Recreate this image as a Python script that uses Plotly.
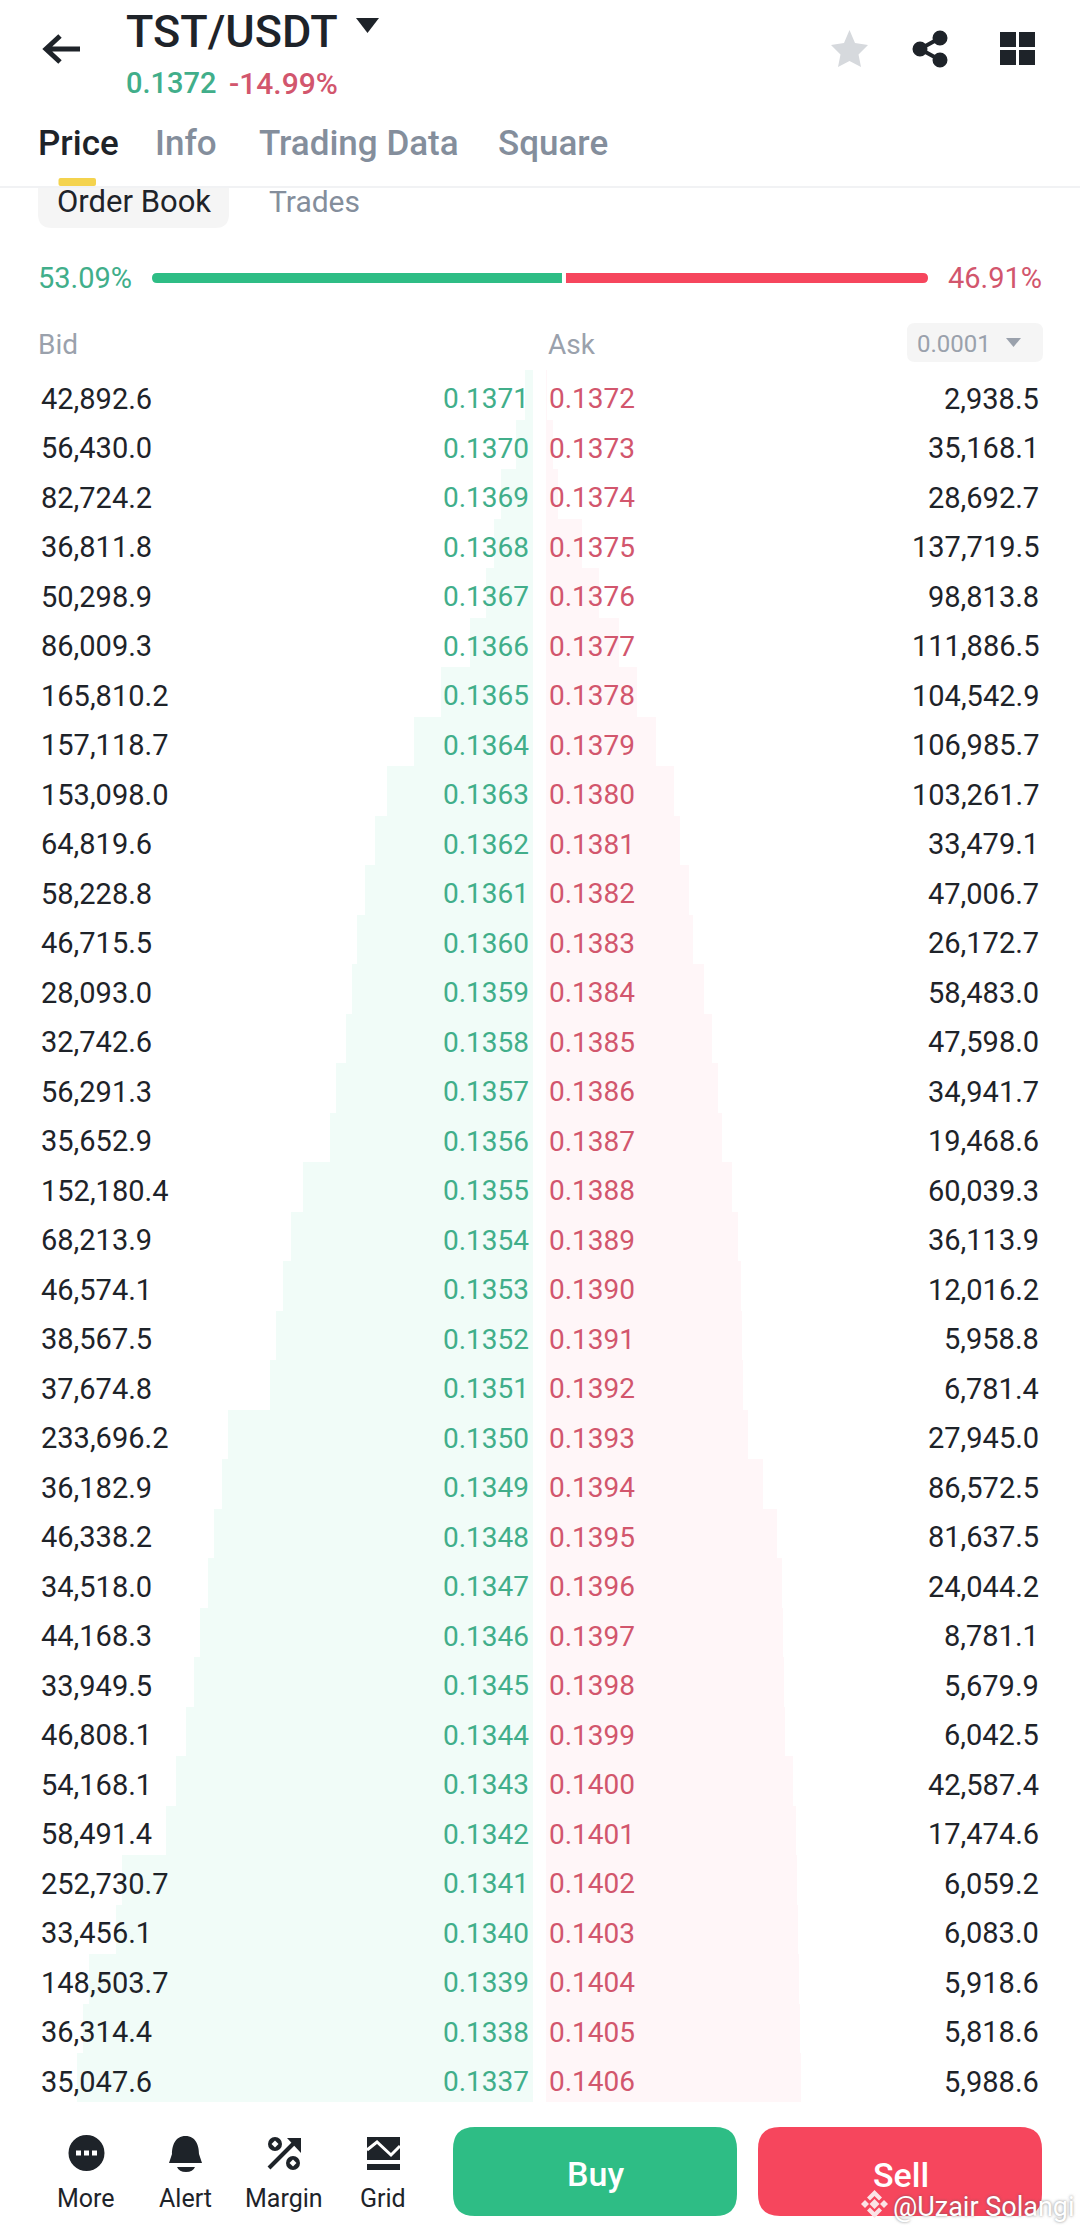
import numpy as np
import plotly.graph_objects as go

# order book values, read top to bottom
bid_sizes = [42892.6, 56430.0, 82724.2, 36811.8, 50298.9, 86009.3, 165810.2, 157118.7, 153098.0, 64819.6,
             58228.8, 46715.5, 28093.0, 32742.6, 56291.3, 35652.9, 152180.4, 68213.9, 46574.1, 38567.5,
             37674.8, 233696.2, 36182.9, 46338.2, 34518.0, 44168.3, 33949.5, 46808.1, 54168.1, 58491.4,
             252730.7, 33456.1, 148503.7, 36314.4, 35047.6]
bid_prices = ["0.1371", "0.1370", "0.1369", "0.1368", "0.1367", "0.1366", "0.1365", "0.1364", "0.1363", "0.1362",
              "0.1361", "0.1360", "0.1359", "0.1358", "0.1357", "0.1356", "0.1355", "0.1354", "0.1353", "0.1352",
              "0.1351", "0.1350", "0.1349", "0.1348", "0.1347", "0.1346", "0.1345", "0.1344", "0.1343", "0.1342",
              "0.1341", "0.1340", "0.1339", "0.1338", "0.1337"]
ask_prices = ["0.1372", "0.1373", "0.1374", "0.1375", "0.1376", "0.1377", "0.1378", "0.1379", "0.1380", "0.1381",
              "0.1382", "0.1383", "0.1384", "0.1385", "0.1386", "0.1387", "0.1388", "0.1389", "0.1390", "0.1391",
              "0.1392", "0.1393", "0.1394", "0.1395", "0.1396", "0.1397", "0.1398", "0.1399", "0.1400", "0.1401",
              "0.1402", "0.1403", "0.1404", "0.1405", "0.1406"]
ask_sizes = [2938.5, 35168.1, 28692.7, 137719.5, 98813.8, 111886.5, 104542.9, 106985.7, 103261.7, 33479.1,
             47006.7, 26172.7, 58483.0, 47598.0, 34941.7, 19468.6, 60039.3, 36113.9, 12016.2, 5958.8,
             6781.4, 27945.0, 86572.5, 81637.5, 24044.2, 8781.1, 5679.9, 6042.5, 42587.4, 17474.6,
             6059.2, 6083.0, 5918.6, 5818.6, 5988.6]
bid_pct = 53.09
ask_pct = 46.91

W, H = 1080, 2228
GREEN = "#2EBD85"
RED = "#F6465D"
GREEN_TEXT = "#41AE8A"
RED_TEXT = "#D2566D"
DARK = "#1E2329"
GRAY = "#848E9C"
FONT = "Roboto"

PX_PER_UNIT = 1.76e-4  # depth bars share one scale on both sides
BID_EDGE, ASK_EDGE = 533, 546
ROWS_TOP, ROWS_BOTTOM = 369.5, 2102
ROW_TEXT_SHIFT = -4.5

fig = go.Figure()

fig.add_trace(go.Bar(x=np.cumsum(bid_sizes).tolist(), y=bid_prices, orientation="h", xaxis="x", yaxis="y",
                     marker=dict(color="#F1FCF8", line=dict(width=0)), hoverinfo="skip"))
fig.add_trace(go.Bar(x=np.cumsum(ask_sizes).tolist(), y=ask_prices, orientation="h", xaxis="x2", yaxis="y2",
                     marker=dict(color="#FFF6F8", line=dict(width=0)), hoverinfo="skip"))
# empty trace so the pixel overlay axes exist
fig.add_trace(go.Scatter(x=[None], y=[None], xaxis="x3", yaxis="y3", hoverinfo="skip"))

annotations = []
shapes = []


def label(text, x, y, size=28, color=DARK, anchor="left", weight=400, **kw):
    annotations.append(dict(text=text, x=x, y=y, xref="x3", yref="y3", xanchor=anchor, yanchor="middle",
                            showarrow=False, borderpad=0,
                            font=dict(family=FONT, size=size, color=color, weight=weight, **kw)))


def row_label(text, x, row, yref, color, anchor, size=28):
    # a category axis takes the row number for an annotation, not the category name
    annotations.append(dict(text=text, x=x, y=row, xref="x3", yref=yref, xanchor=anchor, yanchor="middle",
                            yshift=ROW_TEXT_SHIFT, showarrow=False, borderpad=0,
                            font=dict(family=FONT, size=size, color=color)))


def path(d, fill=None, line=None, width=0):
    shapes.append(dict(type="path", path=d, xref="x3", yref="y3", fillcolor=fill or "rgba(0,0,0,0)",
                       line=dict(color=line or "rgba(0,0,0,0)", width=width)))


def rect(x0, y0, x1, y1, fill):
    shapes.append(dict(type="rect", x0=x0, y0=y0, x1=x1, y1=y1, xref="x3", yref="y3", fillcolor=fill, line_width=0))


def circle(cx, cy, r, fill):
    shapes.append(dict(type="circle", x0=cx - r, y0=cy - r, x1=cx + r, y1=cy + r, xref="x3", yref="y3",
                       fillcolor=fill, line_width=0))


def rounded(x0, y0, x1, y1, r, fill):
    path(f"M{x0 + r},{y0} L{x1 - r},{y0} Q{x1},{y0} {x1},{y0 + r} L{x1},{y1 - r} Q{x1},{y1} {x1 - r},{y1} "
         f"L{x0 + r},{y1} Q{x0},{y1} {x0},{y1 - r} L{x0},{y0 + r} Q{x0},{y0} {x0 + r},{y0} Z", fill=fill)


# order book rows
for i, (size, price) in enumerate(zip(bid_sizes, bid_prices)):
    row_label(f"{size:,.1f}", 40, i, "y", DARK, "left", size=29)
    row_label(price, 530, i, "y", GREEN_TEXT, "right")
for i, (size, price) in enumerate(zip(ask_sizes, ask_prices)):
    row_label(price, 548, i, "y2", RED_TEXT, "left")
    row_label(f"{size:,.1f}", 1040, i, "y2", DARK, "right", size=29)

# header
path("M80,49 L46,49 M60,36 L46,49 L60,62", line=DARK, width=5)
label("TST/USDT", 125, 31, size=45, weight=500)
path("M356,18 L379,18 L367.5,33 Z", fill=DARK)
label("0.1372", 125, 83, size=29, color=GREEN_TEXT, weight=500)
label("-14.99%", 228, 83, size=30, color=RED_TEXT, weight=500)
path("M849.5,30 L855,43 L868,45 L858.5,54.5 L861,67 L849.5,61 L838,67 L840.5,54.5 L831,45 L844,43 Z", fill="#D6D9DD")
path("M940,38 L920,49 L940,60", line=DARK, width=4)
circle(940, 38, 7.5, DARK)
circle(920, 49, 7.5, DARK)
circle(940, 60, 7.5, DARK)
for gx0, gy0 in [(1000, 32), (1019, 32), (1000, 50), (1019, 50)]:
    rect(gx0, gy0, gx0 + 16, gy0 + 15, DARK)

# tabs
label("Price", 37, 143, size=35, weight=500)
label("Info", 154, 143, size=35, color=GRAY, weight=500)
label("Trading Data", 258, 143, size=35, color=GRAY, weight=500)
label("Square", 497, 143, size=35, color=GRAY, weight=500)
path("M38,187 L229,187 L229,214 Q229,228 215,228 L52,228 Q38,228 38,214 Z", fill="#F5F5F5")
rect(0, 186, W, 188, "#F1F2F4")
rounded(58.5, 178, 96, 186, 2, "#F4D34E")
label("Order Book", 56, 201, size=31)
label("Trades", 268, 201, size=30, color=GRAY)

# buy/sell ratio bar
bar_left, bar_right = 152, 928
split = bar_left + (bar_right - bar_left) * bid_pct / 100
label(f"{bid_pct:.2f}%", 37, 278, size=29, color=GREEN_TEXT)
label(f"{ask_pct:.2f}%", 1043, 278, size=29, color=RED_TEXT, anchor="right")
path(f"M{bar_left + 5},273 L{split - 2},273 L{split - 2},283 L{bar_left + 5},283 Q{bar_left},283 {bar_left},278 "
     f"Q{bar_left},273 {bar_left + 5},273 Z", fill=GREEN)
path(f"M{split + 2},273 L{bar_right - 5},273 Q{bar_right},273 {bar_right},278 Q{bar_right},283 {bar_right - 5},283 "
     f"L{split + 2},283 Z", fill=RED)

# column heads
label("Bid", 37, 344, color="#9AA1AC")
label("Ask", 547, 344, color="#9AA1AC")
rounded(907, 323, 1043, 362, 8, "#F5F5F5")
label("0.0001", 916, 344, size=24, color="#9AA1AC")
path("M1006,338 L1021,338 L1013.5,347 Z", fill="#9AA1AC")

# bottom toolbar
circle(86.5, 2153, 18, DARK)
for dx in (-8, 0, 8):
    rect(86.5 + dx - 2.5, 2150.5, 86.5 + dx + 2.5, 2155.5, "white")
path("M185.5,2136 C175,2136 172,2146 172,2154 L169,2163 L202,2163 L199,2154 C199,2146 196,2136 185.5,2136 Z", fill=DARK)
path("M177,2167 L195,2167 Q193,2172 186,2172 Q179,2172 177,2167 Z", fill=DARK)
# margin icon: arrow and percent rings
path("M269,2168 L294,2143", line=DARK, width=4)
path("M287,2138 L301,2138 L301,2153 Z", fill=DARK)
circle(275, 2144, 7, DARK)
path("M275,2140.5 L278.5,2144 L275,2147.5 L271.5,2144 Z", fill="white")
circle(293, 2163, 7, DARK)
path("M293,2159.5 L296.5,2163 L293,2166.5 L289.5,2163 Z", fill="white")
# grid icon: dark band crossed by a zigzag, bar under it
rect(367, 2137, 400, 2160, DARK)
path("M367,2150 L377,2142 L391,2155 L400,2146", line="white", width=3)
rect(367, 2164, 400, 2170, DARK)
label("More", 86, 2198, size=25, anchor="center")
label("Alert", 185, 2198, size=25, anchor="center")
label("Margin", 284, 2198, size=25, anchor="center")
label("Grid", 383, 2198, size=25, anchor="center")
rounded(453, 2127, 737, 2216, 22, GREEN)
rounded(758, 2127, 1042, 2216, 22, RED)
label("Buy", 595, 2174, size=34, color="white", anchor="center", weight=500)
label("Sell", 901, 2175, size=34, color="white", anchor="center", weight=500)

# watermark
LOGO = "#FBE3E6"
path("M874.5,2199 L879.5,2204 L874.5,2209 L869.5,2204 Z", fill=LOGO)
path("M865,2200 L869,2204 L865,2208 L861,2204 Z", fill=LOGO)
path("M884,2200 L888,2204 L884,2208 L880,2204 Z", fill=LOGO)
path("M874.5,2190 L882,2197.5 L879,2200.5 L874.5,2196 L870,2200.5 L867,2197.5 Z", fill=LOGO)
path("M874.5,2218 L882,2210.5 L879,2207.5 L874.5,2212 L870,2207.5 L867,2210.5 Z", fill=LOGO)
label("@Uzair Solangi", 892, 2207, size=27, color="white", shadow="0px 0px 3px rgba(90,90,90,0.75)")

hidden = dict(visible=False, fixedrange=True)
bars_domain = [1 - ROWS_BOTTOM / H, 1 - ROWS_TOP / H]
fig.update_layout(
    width=W,
    height=H,
    margin=dict(l=0, r=0, t=0, b=0),
    paper_bgcolor="white",
    plot_bgcolor="rgba(0,0,0,0)",
    showlegend=False,
    bargap=0,
    xaxis=dict(domain=[0, BID_EDGE / W], range=[BID_EDGE / PX_PER_UNIT, 0], anchor="y", **hidden),
    yaxis=dict(domain=bars_domain, type="category", categoryorder="array", categoryarray=bid_prices,
               range=[len(bid_prices) - 0.5, -0.5], anchor="x", **hidden),
    xaxis2=dict(domain=[ASK_EDGE / W, 1], range=[0, (W - ASK_EDGE) / PX_PER_UNIT], anchor="y2", **hidden),
    yaxis2=dict(domain=bars_domain, type="category", categoryorder="array", categoryarray=ask_prices,
                range=[len(ask_prices) - 0.5, -0.5], anchor="x2", **hidden),
    xaxis3=dict(domain=[0, 1], range=[0, W], anchor="y3", **hidden),
    yaxis3=dict(domain=[0, 1], range=[H, 0], anchor="x3", **hidden),
    annotations=annotations,
    shapes=shapes,
)

# the page's default body margin would push the figure off the window
fig.write_html("out.html", post_script="document.body.style.margin='0';", config=dict(displayModeBar=False))
